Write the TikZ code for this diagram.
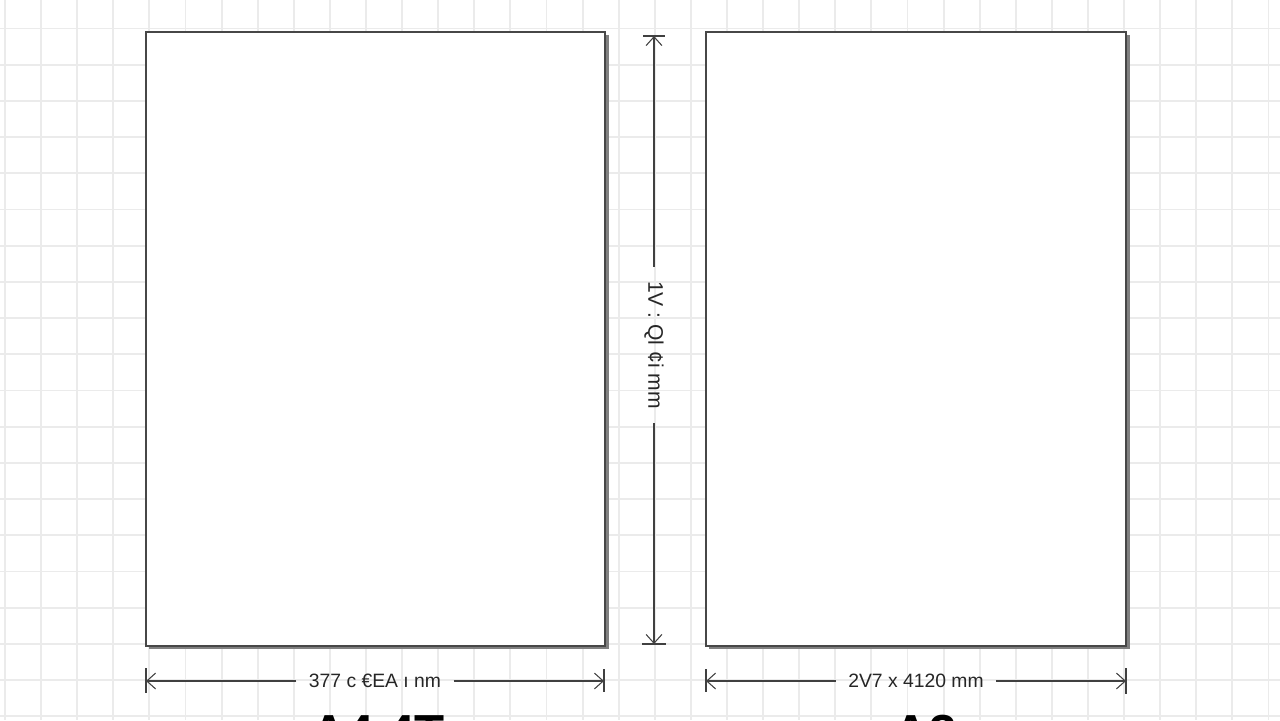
\documentclass[tikz,border=0pt]{standalone}
\usepackage{fontspec}
\setmainfont{Liberation Sans}
\usetikzlibrary{arrows.meta}
\begin{document}
\begin{tikzpicture}[x=0.02cm,y=-0.02cm,
  gridline/.style={draw=black!8,line width=1.1pt},
  sheet/.style={draw=black!72,line width=1.2pt,fill=white},
  sheetshadow/.style={fill=black!50,draw=none},
  dimline/.style={draw=black!75,line width=0.6pt,-{Straight Barb[length=5pt,width=9pt]}},
  dimtick/.style={draw=black!75,line width=0.7pt},
  dimlabel/.style={font=\fontsize{11}{13}\selectfont,text=black!85,inner sep=7pt},
  biglabel/.style={font=\bfseries\fontsize{28}{30}\selectfont,text=black,anchor=base}]
\useasboundingbox (0,0) rectangle (1280,720);
\clip (0,0) rectangle (1280,720);
\fill[white] (0,0) rectangle (1280,720);
% grid
\foreach \k in {0,...,35} {\draw[gridline] ({5+36.1*\k},0) -- ({5+36.1*\k},720);}
\foreach \k in {0,...,19} {\draw[gridline] (0,{28.5+36.2*\k}) -- (1280,{28.5+36.2*\k});}
% sheets
\fill[sheetshadow] (149,35) rectangle (609,649);
\draw[sheet] (146,32) rectangle (605,646);
\fill[sheetshadow] (709,35) rectangle (1130,649);
\draw[sheet] (706,32) rectangle (1126,646);
% vertical dimension
\coordinate (vtop) at (654,36);
\coordinate (vbot) at (654,644);
\node[dimlabel,font=\fontsize{12}{14}\selectfont,rotate=-90,inner sep=8pt] (vlabel) at (654,345) {1V : Ql ¢i mm};
\draw[dimline] (vlabel) -- (vtop);
\draw[dimline] (vlabel) -- (vbot);
\draw[dimtick] (643,36) -- (665,36);
\draw[dimtick] (642,644) -- (666,644);
% left horizontal dimension
\coordinate (lleft) at (146,681);
\coordinate (lright) at (604,681);
\node[dimlabel] (llabel) at (375,681) {377 c €EA ı nm};
\draw[dimline] (llabel) -- (lleft);
\draw[dimline] (llabel) -- (lright);
\draw[dimtick] (146,668) -- (146,693);
\draw[dimtick] (604,669) -- (604,692);
% right horizontal dimension
\coordinate (rleft) at (706,681);
\coordinate (rright) at (1126,681);
\node[dimlabel] (rlabel) at (916,681) {2V7 x 4120 mm};
\draw[dimline] (rlabel) -- (rleft);
\draw[dimline] (rlabel) -- (rright);
\draw[dimtick] (706,669) -- (706,692);
\draw[dimtick] (1126,668) -- (1126,694);
% big labels (cut off at the lower edge, as in the reference)
\node[biglabel] (bigL) at (378,749) {A4 4T};
\node[biglabel] (bigR) at (925,749) {A3};
\end{tikzpicture}
\end{document}
